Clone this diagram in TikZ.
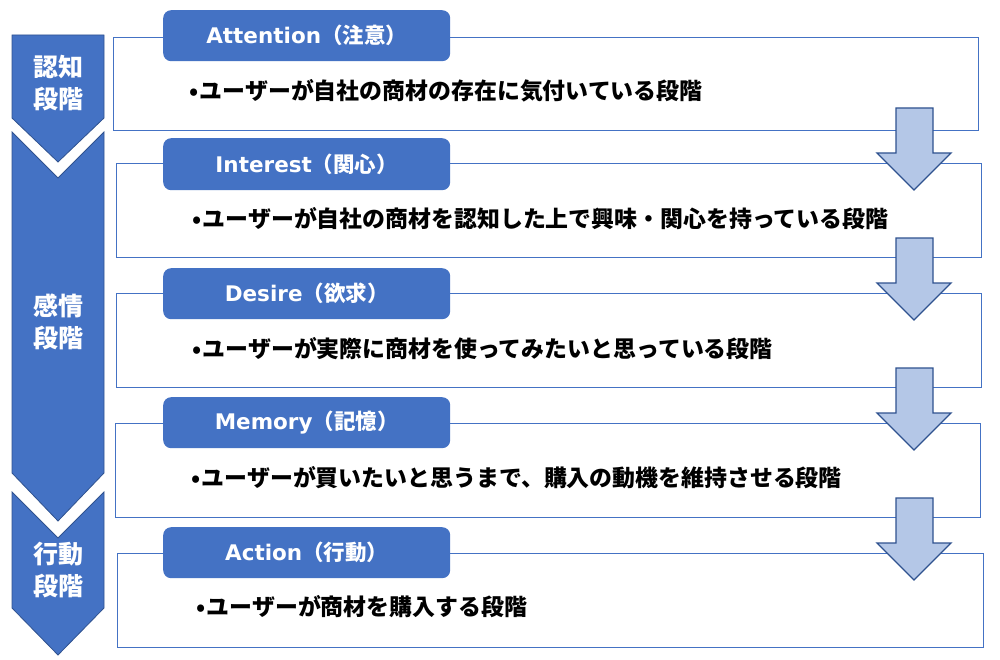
\documentclass[tikz,border=0pt]{standalone}
\usepackage{fontspec}
\newfontfamily\jp{Noto Sans CJK JP}
\newfontfamily\dv{DejaVu Sans}
\definecolor{mainblue}{HTML}{4472C4}
\definecolor{darkedge}{HTML}{2F528F}
\definecolor{lightfill}{HTML}{B4C7E7}
\newcommand\blockarr[1]{%
  \draw[flowarrow] (896,#1) -- (933,#1) -- (933,#1+45) -- (951,#1+45) -- (914,#1+82) -- (877,#1+45) -- (896,#1+45) -- cycle;}
\newcommand\bul{•\kern1.5pt}
\begin{document}
\begin{tikzpicture}[x=1pt,y=-1pt,
  chev/.style={fill=mainblue,draw=darkedge,line width=0.8pt,line join=miter},
  chevtext/.style={text=white,font=\jp\bfseries\fontsize{25}{32}\selectfont,align=center,inner sep=0pt},
  stagebox/.style={draw=mainblue,line width=1.1pt,fill=white,anchor=north west,inner sep=0pt},
  titlebox/.style={fill=mainblue,rounded corners=8pt,anchor=north west,inner sep=0pt,text=white,
    font=\fontsize{21.5}{25}\selectfont},
  desc/.style={anchor=west,inner sep=0pt,font=\jp\bfseries\fontsize{22.9}{26}\selectfont},
  flowarrow/.style={fill=lightfill,draw=darkedge,line width=1.3pt,line join=miter}]
\useasboundingbox (0,0) rectangle (1000,660);
% left chevrons
\draw[chev] (12,35) -- (104,35) -- (104,118) -- (58,162) -- (12,118) -- cycle;
\draw[chev] (12,132) -- (58,178) -- (104,132) -- (104,473) -- (58,521) -- (12,473) -- cycle;
\draw[chev] (12,492) -- (58,538) -- (104,492) -- (104,608) -- (58,655) -- (12,608) -- cycle;
\node[chevtext] (c1) at (58,83) {認知\\段階};
\node[chevtext] (c2) at (58,322) {感情\\段階};
\node[chevtext] (c3) at (58,570) {行動\\段階};
% stage boxes
\node[stagebox,minimum width=865pt,minimum height=93pt] (b1) at (113,37) {};
\node[stagebox,minimum width=865pt,minimum height=94pt] (b2) at (116,163) {};
\node[stagebox,minimum width=865pt,minimum height=94pt] (b3) at (116,293) {};
\node[stagebox,minimum width=865pt,minimum height=94pt] (b4) at (115,423) {};
\node[stagebox,minimum width=866pt,minimum height=94pt] (b5) at (117,553) {};
% titles
\node[titlebox,minimum width=287pt,minimum height=51pt] (t1) at (163,10) {{\dv\bfseries Attention}{\jp\bfseries （注意）}};
\node[titlebox,minimum width=287pt,minimum height=52pt] (t2) at (163,138) {{\dv\bfseries Interest}{\jp\bfseries （関心）}};
\node[titlebox,minimum width=287pt,minimum height=51pt] (t3) at (163,268) {{\dv\bfseries Desire}{\jp\bfseries （欲求）}};
\node[titlebox,minimum width=287pt,minimum height=51pt] (t4) at (163,397) {{\dv\bfseries Memory}{\jp\bfseries （記憶）}};
\node[titlebox,minimum width=287pt,minimum height=51pt] (t5) at (163,527) {{\dv\bfseries Action}{\jp\bfseries （行動）}};
% descriptions
\node[desc] (d1) at (189,91) {\bul ユーザーが自社の商材の存在に気付いている段階};
\node[desc] (d2) at (192,219) {\bul ユーザーが自社の商材を認知した上で興味・関心を持っている段階};
\node[desc] (d3) at (192,349) {\bul ユーザーが実際に商材を使ってみたいと思っている段階};
\node[desc] (d4) at (191,478) {\bul ユーザーが買いたいと思うまで、購入の動機を維持させる段階};
\node[desc] (d5) at (196,607) {\bul ユーザーが商材を購入する段階};
% flow arrows
\blockarr{108}
\blockarr{238}
\blockarr{368}
\blockarr{498}
\end{tikzpicture}
\end{document}
